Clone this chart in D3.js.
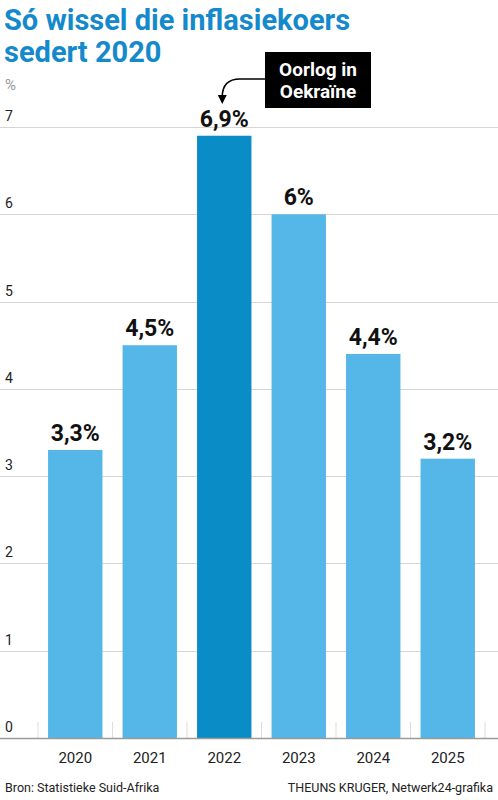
<!DOCTYPE html>
<html lang="af">
<head>
  <meta charset="UTF-8">
  <title>Inflasie sedert 2020</title>
  <style>
    html, body {
      margin: 0;
      padding: 0;
      background: #fff;
    }

    svg text {
      font-family: Roboto, "Noto Sans", sans-serif;
    }

    .title {
      fill: #1489cb;
      font-weight: 700;
      font-size: 29px;
    }

    .grid line {
      stroke: #d6d6d6;
      stroke-width: 1;
    }

    .tick-label {
      font-size: 14px;
      fill: #222;
    }

    .value-label {
      font-size: 23px;
      font-weight: 700;
      fill: #111;
    }

    .year-label {
      font-size: 15px;
      fill: #222;
    }

    .footer {
      font-size: 12.5px;
      fill: #222;
    }
  </style>
</head>
<body>
  <script src="https://d3js.org/d3.v7.min.js"></script>
  <script>
    const width = 498,
          height = 800

    const years = ['2020', '2021', '2022', '2023', '2024', '2025']
    const rates = [3.3, 4.5, 6.9, 6.0, 4.4, 3.2]
    const rateLabels = ['3,3%', '4,5%', '6,9%', '6%', '4,4%', '3,2%']
    const yTicks = [0, 1, 2, 3, 4, 5, 6, 7]
    const highlightYear = '2022'
    const titleLines = ['Só wissel die inflasiekoers', 'sedert 2020']
    const noteLines = ['Oorlog in', 'Oekraïne']

    const x = d3.scaleBand()
      .domain(years)
      .range([38, 485])
      .paddingInner(0.27)
      .paddingOuter(0.135)

    const y = d3.scaleLinear()
      .domain([0, 7])
      .range([738, 127])

    const svg = d3.select('body')
      .append('svg')
      .attr('width', width)
      .attr('height', height)

    // title
    svg.append('text')
      .attr('class', 'title')
      .selectAll('tspan')
        .data(titleLines)
      .enter()
        .append('tspan')
        .attr('x', 4)
        .attr('y', (d, i) => 30 + i * 32)
        .text(d => d)

    svg.append('text')
      .attr('x', 5)
      .attr('y', 90)
      .attr('fill', '#999')
      .style('font-size', '15px')
      .text('%')

    // gridlines + labels sitting on top of them
    const grid = svg.append('g').attr('class', 'grid')
    grid.selectAll('line')
        .data(yTicks.filter(d => d > 0))
      .enter()
        .append('line')
        .attr('x1', 0)
        .attr('x2', width)
        .attr('y1', d => Math.round(y(d)) + 0.5)
        .attr('y2', d => Math.round(y(d)) + 0.5)

    svg.append('g')
      .selectAll('text')
        .data(yTicks)
      .enter()
        .append('text')
        .attr('class', 'tick-label')
        .attr('x', 5)
        .attr('y', d => y(d) - 6)
        .text(d => d)

    // small separators between bands
    const step = x.step()
    const seps = years.map(d => x(d) - step * x.paddingInner() / 2)
    seps.push(x(years[years.length - 1]) + x.bandwidth() + step * x.paddingInner() / 2)
    svg.append('g')
      .selectAll('line')
        .data(seps)
      .enter()
        .append('line')
        .attr('x1', d => d)
        .attr('x2', d => d)
        .attr('y1', y(0) - 16)
        .attr('y2', y(0))
        .attr('stroke', '#ddd')

    // bars
    svg.append('g')
      .selectAll('rect')
        .data(years)
      .enter()
        .append('rect')
        .attr('x', d => x(d))
        .attr('width', x.bandwidth())
        .attr('y', (d, i) => y(rates[i]))
        .attr('height', (d, i) => y(0) - y(rates[i]))
        .attr('fill', d => d === highlightYear ? '#0a8cc6' : '#55b7e7')

    svg.append('line')
      .attr('x1', 0)
      .attr('x2', width)
      .attr('y1', y(0) + 0.5)
      .attr('y2', y(0) + 0.5)
      .attr('stroke', '#9a9a9a')
      .attr('stroke-width', 1.5)

    // value labels
    svg.append('g')
      .selectAll('text')
        .data(years)
      .enter()
        .append('text')
        .attr('class', 'value-label')
        .attr('text-anchor', 'middle')
        .attr('x', d => x(d) + x.bandwidth() / 2)
        .attr('y', (d, i) => y(rates[i]) - 9)
        .text((d, i) => rateLabels[i])

    // year labels
    svg.append('g')
      .selectAll('text')
        .data(years)
      .enter()
        .append('text')
        .attr('class', 'year-label')
        .attr('text-anchor', 'middle')
        .attr('x', d => x(d) + x.bandwidth() / 2)
        .attr('y', 763)
        .text(d => d)

    // annotation box + arrow
    const note = svg.append('g')
    note.append('rect')
      .attr('x', 265)
      .attr('y', 52)
      .attr('width', 106)
      .attr('height', 56)
      .attr('fill', '#000')

    note.append('text')
      .attr('text-anchor', 'middle')
      .attr('fill', '#fff')
      .style('font-size', '19px')
      .style('font-weight', 700)
      .selectAll('tspan')
        .data(noteLines)
      .enter()
        .append('tspan')
        .attr('x', 318)
        .attr('y', (d, i) => 76 + i * 22)
        .text(d => d)

    const tipX = x(highlightYear) + x.bandwidth() / 2 - 2
    note.append('path')
      .attr('d', `M265,79 L240,79 Q${tipX},79 ${tipX},97`)
      .attr('fill', 'none')
      .attr('stroke', '#000')
      .attr('stroke-width', 1.5)
    note.append('path')
      .attr('d', `M${tipX - 4.5},95 L${tipX + 4.5},95 L${tipX},104 Z`)
      .attr('fill', '#000')

    // footer
    svg.append('text')
      .attr('class', 'footer')
      .attr('x', 5)
      .attr('y', 792)
      .text('Bron: Statistieke Suid-Afrika')

    svg.append('text')
      .attr('class', 'footer')
      .attr('x', 493)
      .attr('y', 792)
      .attr('text-anchor', 'end')
      .text('THEUNS KRUGER, Netwerk24-grafika')
  </script>
</body>
</html>
